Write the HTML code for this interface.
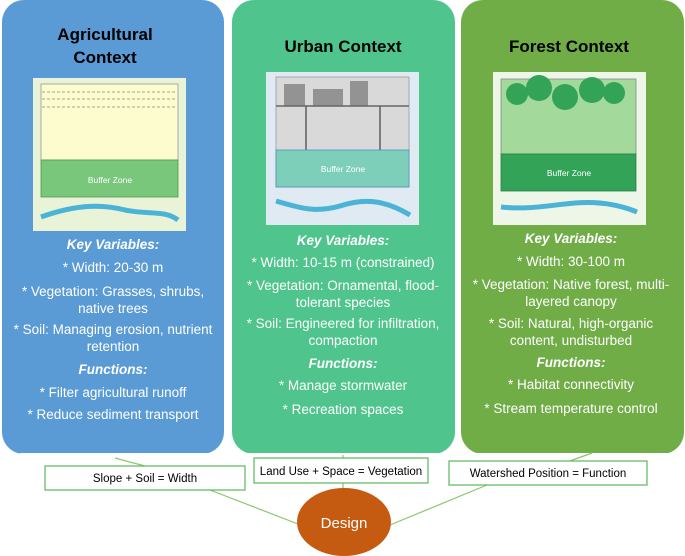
<!DOCTYPE html>
<html><head><meta charset="utf-8"><style>
html,body{margin:0;padding:0;background:#fff;width:685px;height:556px;overflow:hidden}
svg{display:block}
text{font-family:"Liberation Sans",sans-serif}
.w{fill:#fff;font-size:13.5px;text-anchor:middle}
.h{fill:#fff;font-size:13.5px;font-weight:bold;font-style:italic;text-anchor:middle}
.t{fill:#000;font-size:17px;font-weight:bold;text-anchor:middle}
.bz{fill:#fff;font-size:8.5px;text-anchor:middle}
.b{fill:#000;font-size:11.5px;text-anchor:middle}
</style></head><body>
<svg width="685" height="556" viewBox="0 0 685 556">
<rect x="2" y="0" width="222" height="454" rx="22" fill="#5b9bd5"/>
<rect x="232" y="0" width="223" height="454" rx="22" fill="#4fc48c"/>
<rect x="461" y="0" width="223" height="454" rx="22" fill="#70ad47"/>
<line x1="20" y1="454" x2="668" y2="454" stroke="#fff" stroke-width="2"/>

<text class="t" x="105" y="40">Agricultural</text>
<text class="t" x="105" y="63">Context</text>
<text class="t" x="343" y="52">Urban Context</text>
<text class="t" x="569" y="52">Forest Context</text>

<rect x="33" y="78" width="153" height="153" fill="#e8f3d8"/>
<rect x="41" y="84" width="137" height="76" fill="#fdfccf" stroke="#999" stroke-width="0.8"/>
<g stroke="#888" stroke-width="0.8" stroke-dasharray="3,2">
<line x1="42" y1="92" x2="177" y2="92"/><line x1="42" y1="99" x2="177" y2="99"/><line x1="42" y1="107" x2="177" y2="107"/></g>
<rect x="41" y="160" width="137" height="37" fill="#79c77b" stroke="#4e9a4e" stroke-width="0.8"/>
<text class="bz" x="110" y="183">Buffer Zone</text>
<path d="M41 217 C80 203 105 205 125 210 C150 215 165 210 178 220" stroke="#4bb3d6" stroke-width="5" fill="none"/>

<rect x="266" y="72" width="153" height="153" fill="#dfeaf3"/>
<rect x="276" y="77" width="133" height="110" fill="#d9d9d9" stroke="#999" stroke-width="0.8"/>
<rect x="284" y="84" width="21" height="22" fill="#939393"/>
<rect x="313" y="89" width="30" height="17" fill="#939393"/>
<rect x="350" y="81" width="18" height="25" fill="#939393"/>
<g stroke="#666" stroke-width="1.6"><line x1="276" y1="106" x2="409" y2="106"/><line x1="306" y1="106" x2="306" y2="150"/><line x1="380" y1="106" x2="380" y2="150"/></g>
<rect x="276" y="150" width="133" height="37" fill="#7ecfba" stroke="#4a8fbf" stroke-width="0.8"/>
<text class="bz" x="343" y="172">Buffer Zone</text>
<path d="M276 201 C300 208 315 213 340 206 C365 198 385 200 410 215" stroke="#4bb3d6" stroke-width="5" fill="none"/>

<rect x="493" y="72" width="153" height="153" fill="#eef6e8"/>
<rect x="501" y="79" width="135" height="75" fill="#a3d99b" stroke="#888" stroke-width="0.8"/>
<rect x="501" y="154" width="135" height="37" fill="#33a457" stroke="#2a7d45" stroke-width="0.8"/>
<g fill="#33a457"><circle cx="517" cy="94" r="11"/><circle cx="539" cy="88" r="13"/><circle cx="565" cy="97" r="13"/><circle cx="592" cy="90" r="13"/><circle cx="614" cy="93" r="11"/></g>
<text class="bz" x="569" y="176">Buffer Zone</text>
<path d="M501 207 C530 210 550 205 575 203 C600 201 620 205 637 212" stroke="#4bb3d6" stroke-width="5" fill="none"/>

<text class="h" x="113" y="249">Key Variables:</text>
<text class="w" x="113" y="272">* Width: 20-30 m</text>
<text class="w" x="113" y="296">* Vegetation: Grasses, shrubs,</text>
<text class="w" x="113" y="313">native trees</text>
<text class="w" x="113" y="334">* Soil: Managing erosion, nutrient</text>
<text class="w" x="113" y="351">retention</text>
<text class="h" x="113" y="374">Functions:</text>
<text class="w" x="113" y="397">* Filter agricultural runoff</text>
<text class="w" x="113" y="419">* Reduce sediment transport</text>

<text class="h" x="343" y="245">Key Variables:</text>
<text class="w" x="343" y="267">* Width: 10-15 m (constrained)</text>
<text class="w" x="343" y="290">* Vegetation: Ornamental, flood-</text>
<text class="w" x="343" y="307">tolerant species</text>
<text class="w" x="343" y="328">* Soil: Engineered for infiltration,</text>
<text class="w" x="343" y="345">compaction</text>
<text class="h" x="343" y="368">Functions:</text>
<text class="w" x="343" y="390">* Manage stormwater</text>
<text class="w" x="343" y="414">* Recreation spaces</text>

<text class="h" x="571" y="243">Key Variables:</text>
<text class="w" x="571" y="266">* Width: 30-100 m</text>
<text class="w" x="571" y="289">* Vegetation: Native forest, multi-</text>
<text class="w" x="571" y="306">layered canopy</text>
<text class="w" x="571" y="328">* Soil: Natural, high-organic</text>
<text class="w" x="571" y="345">content, undisturbed</text>
<text class="h" x="571" y="367">Functions:</text>
<text class="w" x="571" y="389">* Habitat connectivity</text>
<text class="w" x="571" y="413">* Stream temperature control</text>

<g stroke="#8cc56a" stroke-width="1.2">
<line x1="115" y1="458" x2="145" y2="466"/>
<line x1="210" y1="490" x2="298" y2="524"/>
<line x1="343" y1="455" x2="343" y2="458"/>
<line x1="343" y1="483" x2="343" y2="490"/>
<line x1="592" y1="453" x2="570" y2="461"/>
<line x1="487" y1="485" x2="390" y2="525"/>
</g>
<rect x="45" y="466" width="200" height="24" fill="#fff" stroke="#5cb85c" stroke-width="1.2"/>
<text class="b" x="145" y="482">Slope + Soil = Width</text>
<rect x="254" y="458" width="174" height="25" fill="#fff" stroke="#5cb85c" stroke-width="1.2"/>
<text class="b" x="341" y="475">Land Use + Space = Vegetation</text>
<rect x="449" y="461" width="198" height="24" fill="#fff" stroke="#5cb85c" stroke-width="1.2"/>
<text class="b" x="548" y="477">Watershed Position = Function</text>

<ellipse cx="344" cy="522" rx="47" ry="34" fill="#c55a11"/>
<text x="344" y="528" fill="#fff" font-size="15" text-anchor="middle">Design</text>
</svg>
</body></html>
